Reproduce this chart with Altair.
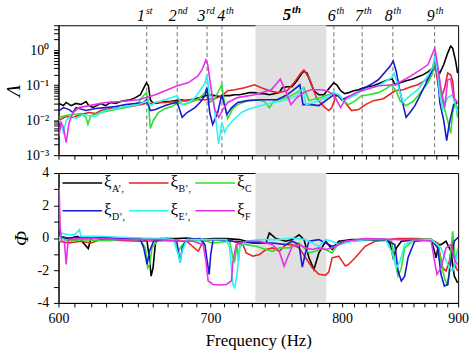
import altair as alt
import pandas as pd

SERIF = "Liberation Serif"

keys = ["A", "B", "C", "D", "E", "F"]
colors = ["#000000", "#e8231f", "#2ee02e", "#1a1ad0", "#2ef2f2", "#e82ee8"]
legend_sub = ["A\u2019,", "B\u2019,", "C", "D\u2019,", "E\u2019,", "F"]

mode_freqs = [656.2, 676.8, 697.6, 708.2, 793.4, 816.5, 842.3, 878.8]
label_num = ["1", "2", "3", "4", "5", "6", "7", "8", "9"]
label_sup = ["st", "nd", "rd", "th", "th", "th", "th", "th", "th"]
label_freq = [655.0, 676.4, 696.4, 710.5, 759.7, 794.8, 817.2, 842.1, 878.8]
band = [732.7, 787.3]

# ---- amplitude ratio (top panel): (frequency Hz, value)
lam_A = [(600.4, 0.030), (603, 0.026), (604.7, 0.032), (607.7, 0.026), (610.7, 0.030), (613.9, 0.028),
         (617, 0.034), (618.8, 0.026), (621.3, 0.023), (623.7, 0.026), (626.3, 0.030), (629.4, 0.026),
         (632.6, 0.032), (635.8, 0.030), (639, 0.034), (642.2, 0.036), (645.5, 0.038), (648.7, 0.044),
         (652, 0.053), (654, 0.079), (656, 0.116), (657.3, 0.096), (658.6, 0.038), (660, 0.032),
         (662, 0.030), (665.3, 0.032), (668.6, 0.034), (671.9, 0.034), (675.4, 0.036), (678.8, 0.038),
         (682.2, 0.036), (685.6, 0.038), (689.1, 0.041), (692.6, 0.044), (696.1, 0.050), (699.5, 0.053),
         (703.1, 0.050), (706.6, 0.047), (710.2, 0.050), (713.8, 0.050), (717.4, 0.053), (721, 0.053),
         (724.7, 0.057), (728.3, 0.061), (732, 0.061), (735.6, 0.057), (739.4, 0.057), (743.1, 0.053),
         (746.8, 0.057), (750.6, 0.061), (752.9, 0.084), (756.6, 0.090), (760.4, 0.090), (764.2, 0.133),
         (768.1, 0.22), (769.7, 0.25), (772, 0.22), (775.1, 0.116), (777.5, 0.069), (781.4, 0.053),
         (785.4, 0.053), (789.3, 0.079), (793.3, 0.116), (795.7, 0.102), (798.9, 0.069), (802.1, 0.057),
         (805.3, 0.061), (809.4, 0.069), (813.5, 0.074), (817.6, 0.084), (821.7, 0.090), (825.8, 0.096),
         (830, 0.109), (834.2, 0.125), (838.4, 0.142), (841.8, 0.150), (844.3, 0.102), (848.5, 0.116),
         (853.7, 0.133), (859.7, 0.150), (864, 0.172), (868.4, 0.196), (872.8, 0.238), (877.2, 0.31),
         (878.9, 0.38), (881.6, 0.27), (883.4, 0.22), (886.9, 0.38), (890.5, 0.82), (893.2, 1.30),
         (895, 1.14), (897.7, 0.49), (899.5, 0.22)]
lam_B = [(600.4, 0.010), (604.7, 0.0127), (608.9, 0.012), (613.9, 0.0145), (618.8, 0.0165), (623, 0.0155),
         (626.3, 0.0188), (632.6, 0.0214), (640.3, 0.0228), (645.5, 0.0244), (652, 0.0277), (655.3, 0.030),
         (658.6, 0.030), (662, 0.032), (668.6, 0.032), (675.4, 0.034), (682.2, 0.036), (689.1, 0.038),
         (696.1, 0.038), (703.1, 0.041), (708.1, 0.050), (712.4, 0.069), (717.4, 0.074), (724.7, 0.084),
         (732, 0.102), (737.1, 0.084), (743.1, 0.069), (749.1, 0.061), (756.6, 0.069), (761.9, 0.116),
         (767.3, 0.22), (769.7, 0.27), (773.6, 0.161), (779.8, 0.041), (785.4, 0.0244), (789.3, 0.0188),
         (791.7, 0.0228), (794.9, 0.047), (797.3, 0.053), (801.3, 0.036), (807.7, 0.0188), (813.5, 0.020),
         (819.2, 0.0277), (825.8, 0.036), (834.2, 0.041), (844.3, 0.069), (851.1, 0.074), (858, 0.090),
         (864, 0.102), (872.8, 0.150), (877.2, 0.25), (878.9, 0.43), (881.6, 0.116), (884.3, 0.038),
         (887.8, 0.084), (890.5, 0.22), (893.2, 0.196), (895, 0.133), (896.8, 0.032), (899.5, 0.0214)]
lam_C = [(600.4, 0.012), (604.7, 0.0135), (608.9, 0.0145), (613.9, 0.0155), (617, 0.012), (618.2, 0.0075),
         (620, 0.0135), (626.3, 0.0165), (632.6, 0.0188), (639, 0.0214), (645.5, 0.0244), (650.7, 0.032),
         (654, 0.050), (656, 0.061), (657.3, 0.032), (658.6, 0.0058), (660.6, 0.0098), (664, 0.0165),
         (668.6, 0.0214), (673.2, 0.0244), (677.5, 0.032), (680.8, 0.0277), (685.6, 0.032), (689.1, 0.036),
         (692.6, 0.044), (696.1, 0.061), (697.5, 0.084), (699.5, 0.032), (703.1, 0.041), (705.9, 0.069),
         (708.1, 0.102), (710.2, 0.0277), (712.4, 0.0111), (716, 0.0214), (719.6, 0.0277), (726.8, 0.036),
         (734.1, 0.038), (739.4, 0.034), (743.1, 0.0228), (746.8, 0.036), (756.6, 0.044), (764.2, 0.061),
         (769.7, 0.084), (773.6, 0.036), (783, 0.044), (793.3, 0.061), (799.7, 0.038), (805.3, 0.0277),
         (811, 0.036), (815.9, 0.050), (821.7, 0.053), (830, 0.061), (836.7, 0.079), (841, 0.102),
         (845.2, 0.069), (848.5, 0.036), (853.7, 0.026), (859.7, 0.034), (864, 0.050), (872.8, 0.116),
         (877.2, 0.22), (878.9, 0.52), (881.6, 0.196), (885.2, 0.041), (890.5, 0.0098), (893.2, 0.0042),
         (895, 0.0165), (897.7, 0.036), (899.5, 0.012)]
lam_D = [(600.4, 0.0188), (603, 0.0228), (606.5, 0.020), (608.9, 0.0165), (610.7, 0.0228), (617, 0.0188),
         (623, 0.0214), (629.4, 0.0228), (635.8, 0.0244), (642.2, 0.0277), (648.7, 0.030), (654, 0.032),
         (656, 0.038), (658.6, 0.0188), (662, 0.020), (668.6, 0.026), (673.2, 0.030), (676.8, 0.032),
         (680.2, 0.012), (683.6, 0.0165), (689.1, 0.0228), (692.6, 0.032), (696.1, 0.050), (697.5, 0.084),
         (699.5, 0.0165), (701.6, 0.0075), (705.2, 0.0165), (708.1, 0.053), (711.7, 0.0145), (715.3, 0.0228),
         (719.6, 0.032), (726.8, 0.036), (737.1, 0.038), (749.1, 0.038), (756.6, 0.053), (761.9, 0.074),
         (766.5, 0.102), (768.9, 0.0277), (775.1, 0.0277), (781.4, 0.026), (787.7, 0.038), (793.3, 0.053),
         (797.3, 0.050), (799.7, 0.038), (805.3, 0.047), (811, 0.053), (815.9, 0.074), (823.3, 0.102),
         (830, 0.142), (835.9, 0.24), (840.1, 0.35), (842.6, 0.49), (845.2, 0.25), (847.7, 0.084),
         (851.1, 0.0277), (853.7, 0.012), (857.1, 0.0165), (861.4, 0.026), (865.8, 0.050), (870.1, 0.096),
         (874.6, 0.196), (877.2, 0.31), (878.9, 0.59), (881.6, 0.196), (883.4, 0.032), (886.9, 0.0098),
         (889.6, 0.0026), (891.4, 0.0062), (893.2, 0.012), (895.9, 0.0277), (899.5, 0.032)]
lam_E = [(600.4, 0.010), (601.6, 0.0075), (603, 0.0045), (604.7, 0.0098), (607.7, 0.0135), (610.7, 0.0111),
         (615.2, 0.0145), (618.8, 0.0135), (623, 0.0127), (626.3, 0.0165), (629.4, 0.0188), (635.8, 0.0214),
         (642.2, 0.0244), (650.7, 0.0277), (656.6, 0.036), (658.6, 0.026), (662, 0.032), (668.6, 0.038),
         (673.2, 0.044), (676.8, 0.050), (680.2, 0.0277), (684.3, 0.032), (689.1, 0.044), (692.6, 0.069),
         (696.1, 0.116), (697.5, 0.196), (699.5, 0.053), (702.3, 0.032), (705.9, 0.0021), (708.1, 0.0086),
         (710.2, 0.0045), (712.4, 0.0066), (716, 0.0098), (722.5, 0.0165), (726.8, 0.020), (737.1, 0.026),
         (746.8, 0.032), (756.6, 0.038), (764.2, 0.050), (768.9, 0.084), (771.2, 0.0277), (777.5, 0.032),
         (787.7, 0.044), (793.3, 0.061), (797.3, 0.053), (801.3, 0.036), (811, 0.053), (815.9, 0.069),
         (830, 0.096), (841, 0.161), (843.5, 0.22), (846.8, 0.096), (851.1, 0.032), (857.1, 0.050),
         (864, 0.074), (872.8, 0.184), (877.2, 0.33), (878.9, 0.67), (881.6, 0.196), (883.4, 0.053),
         (886, 0.020), (890.5, 0.044), (895, 0.053), (899.5, 0.0165)]
lam_F = [(600.4, 0.0037), (601.6, 0.0086), (603, 0.0062), (604.7, 0.0023), (606.5, 0.0086), (608.9, 0.0165),
         (612.7, 0.0228), (618.8, 0.026), (629.4, 0.032), (639, 0.034), (650.7, 0.038), (662, 0.053),
         (668.6, 0.069), (676.8, 0.096), (684.3, 0.116), (691.2, 0.184), (694, 0.27), (696.8, 0.52),
         (698.1, 0.38), (700.9, 0.061), (703.1, 0.020), (705.9, 0.012), (708.8, 0.020), (712.4, 0.032),
         (719.6, 0.044), (732, 0.053), (744.6, 0.074), (749.1, 0.116), (751.4, 0.150), (755.9, 0.061),
         (759.6, 0.0277), (764.2, 0.044), (769.7, 0.061), (775.1, 0.074), (783, 0.074), (787.7, 0.069),
         (793.3, 0.053), (798.9, 0.0228), (802.9, 0.041), (811, 0.061), (815.9, 0.069), (830, 0.096),
         (844.3, 0.102), (858, 0.184), (872.8, 0.38), (878.9, 1.14), (881.6, 0.35), (884.3, 0.084),
         (887.8, 0.0228), (890.5, 0.142), (893.2, 0.150), (895.9, 0.044), (899.5, 0.032)]

# ---- phase (bottom panel): (frequency Hz, phase)
phi_A = [(600.4, 0.1), (605.9, -0.04), (611.8, 0.1), (618.4, -0.65), (620, -0.04), (626.3, 0.04), (639, -0.04),
         (652, -0.04), (656.4, -0.2), (658.2, -1.43), (659.1, -2.35), (660.4, -1.84), (662, -0.31),
         (665.3, -0.04), (676.5, -0.04), (683.3, 0.0), (692.6, -0.1), (701.9, -0.04), (711.4, -0.04),
         (721, -0.1), (730.8, -0.31), (740.6, -0.31), (743.1, 0.31), (748.1, -0.04), (755.6, -0.2),
         (760.6, -0.1), (765.8, 0.2), (769.7, -0.1), (773.6, -1.22), (777.5, -1.94), (781.4, -0.92),
         (786.8, -0.2), (792, -0.71), (797.3, -0.2), (808.1, -0.1), (824.5, -0.1), (835.6, -0.1),
         (839.8, -0.31), (842.6, -1.22), (845.4, -0.61), (849.6, -0.2), (864, -0.1), (875.7, -0.1),
         (878.6, -0.82), (880.1, -1.22), (882.2, -0.41), (884.5, -0.41), (889, -0.2), (893.5, -0.82),
         (896.5, -2.35), (899.5, -2.76)]
phi_B = [(600.4, -0.2), (605.9, -0.31), (613.9, -0.2), (620, -0.31), (626.3, -0.1), (639, -0.16), (652, -0.2),
         (669.7, -0.16), (683.3, -0.2), (691.4, -0.82), (694.9, -0.2), (701.9, -0.1), (716.2, -0.2),
         (723.5, -0.41), (725.9, -0.92), (730.8, -1.12), (735.6, -1.02), (740.6, -0.71), (745.6, -0.61),
         (750.6, -0.82), (755.6, -0.41), (760.6, -0.41), (765.8, -0.61), (771, -1.22), (776.2, -1.84),
         (781.4, -2.24), (786.8, -2.29), (789.3, -2.1), (792, -1.22), (797.3, -1.12), (802.7, -1.73),
         (805.3, -1.63), (810.7, -1.22), (819, -0.51), (827.2, -0.2), (846.8, -0.04), (864, -0.04),
         (875.7, -0.1), (881.6, -0.31), (886, -1.84), (889, -2.04), (892, -1.43), (895, -0.2), (898, -1.84),
         (900, -2.04)]
phi_C = [(600.4, 0.1), (605.9, -0.2), (613.9, -0.1), (622.2, -0.16), (632.6, -0.16), (643.3, -0.04), (652, -0.16),
         (655.3, -0.61), (656.8, -1.84), (658.2, -1.63), (659.7, -0.61), (663, -0.2), (669.7, -0.1),
         (675.1, -0.2), (677.2, -0.92), (678.8, -0.61), (683.3, -0.1), (697.3, -0.2), (701.9, -0.31),
         (713.8, -0.2), (716.2, -1.22), (717.4, -1.43), (719.1, -0.41), (720.3, -1.43), (721.5, -0.2),
         (725.9, -0.41), (733.2, -0.51), (740.6, -0.71), (745.6, -0.82), (750.6, -0.61), (758.1, -0.61),
         (765.8, -0.31), (773.6, -0.92), (778.8, -0.82), (784, -0.61), (789.3, -0.82), (792, -0.92),
         (797.3, -0.31), (808.1, -0.2), (824.5, -0.1), (841.2, -0.2), (844, -1.43), (846.8, -2.35),
         (849.6, -1.84), (852.5, -0.61), (861.1, -0.1), (875.7, -0.1), (881.6, -0.41), (887.5, -2.45),
         (890.5, -2.96), (892.6, -1.43), (895, 0.41), (897.1, -1.43), (900, -0.61)]
phi_D = [(600.4, 0.1), (605.9, 0.0), (613.9, 0.04), (626.3, -0.04), (639, -0.04), (652, -0.1), (654.2, -0.61),
         (656.4, -1.63), (658, -0.82), (660.8, -0.2), (669.7, -0.04), (676.5, -0.2), (678.8, -1.53),
         (680.2, -0.61), (683.3, -0.1), (692.6, -0.04), (696.1, -0.41), (697.7, -1.43), (699.1, -2.24),
         (700.2, -1.02), (701.9, -0.1), (706.6, -0.1), (716.2, -0.2), (730.8, -0.31), (745.6, -0.31),
         (755.6, -0.41), (760.6, -0.2), (765.8, -0.41), (768.4, -1.8), (770.5, -1.02), (773.6, -0.2),
         (781.4, -0.1), (792, -0.51), (802.7, -0.2), (819, -0.1), (835.6, -0.1), (844, -0.41), (846.8, -2.04),
         (849.6, -2.65), (852.5, -2.35), (855.4, -1.22), (861.1, -0.2), (875.7, -0.1), (881.6, -0.61),
         (884.5, -2.24), (887.5, -2.96), (890.5, -2.86), (893.5, -1.43), (896.5, -0.2), (900, 0.04)]
phi_E = [(600.4, -0.2), (601.6, 0.31), (605.9, 0.2), (609.9, 0.2), (612.9, 0.51), (613.9, 0.1), (620, 0.1),
         (626.3, 0.1), (639, 0.04), (652, 0.0), (665.3, -0.04), (674.2, -0.1), (677.6, -1.02), (678.8, -1.53),
         (680.2, -0.82), (683.3, -0.1), (697.3, -0.1), (711.4, -0.1), (713.8, -0.61), (716.2, -2.86),
         (717.4, -3.06), (719.1, -2.24), (721, -0.61), (725.9, -0.2), (735.6, -0.1), (750.6, -0.1),
         (760.6, 0.0), (771, -0.1), (776.2, -0.31), (781.4, -0.51), (786.8, -0.1), (792, -0.2), (797.3, -0.41),
         (808.1, -0.2), (819, -0.1), (835.6, -0.04), (841.2, -0.82), (845.4, -1.84), (848.5, -1.43),
         (852.5, -0.41), (861.1, -0.1), (875.7, -0.1), (884.5, -0.61), (890.5, -1.63), (895, -2.04),
         (898, -1.43), (900, -0.61)]
phi_F = [(600.4, 3.06), (601, 0.61), (602, -0.2), (603.6, -0.2), (604.7, -1.63), (605.9, -0.1), (613.9, -0.04),
         (626.3, -0.04), (639, -0.1), (652, -0.1), (665.3, -0.1), (678.8, -0.2), (687.8, -0.2), (694.9, -0.41),
         (696.8, -1.43), (698.4, -2.65), (701.9, -2.86), (706.6, -2.9), (711.4, -2.86), (715, -2.65),
         (716.2, -1.43), (718.6, -0.41), (725.9, -0.2), (735.6, -0.2), (745.6, -0.41), (750.6, -0.82),
         (754.4, -1.73), (756.9, -1.22), (760.6, -0.51), (765.8, -0.41), (771, -0.61), (776.2, -0.71),
         (781.4, -0.61), (786.8, -0.71), (792, -0.61), (802.7, -0.2), (819, -0.04), (846.8, -0.1),
         (861.1, -0.1), (875.7, -0.2), (879.2, -1.63), (880.9, -2.24), (884.5, -1.84), (889, -0.61),
         (893.5, -0.41), (897.1, -1.43), (900, -1.63)]


def frame(series, col):
    rows = []
    for k, pts in zip(keys, series):
        for f, v in pts:
            rows.append({"f": f, col: v, "s": k})
    return pd.DataFrame(rows)


top_df = frame([lam_A, lam_B, lam_C, lam_D, lam_E, lam_F], "v")
bot_df = frame([phi_A, phi_B, phi_C, phi_D, phi_E, phi_F], "p")
band_df = pd.DataFrame({"f0": [band[0]], "f1": [band[1]]})
mode_df = pd.DataFrame({"f": mode_freqs})
lab_df = pd.DataFrame({"f": label_freq, "n": label_num, "s": label_sup})
lab_norm = lab_df[lab_df["n"] != "5"]
lab_bold = lab_df[lab_df["n"] == "5"]

W, H = 403, 131

xscale = alt.Scale(type="log", domain=[600, 900], nice=False)
xticks = list(range(600, 901, 10))
top_xaxis = alt.Axis(values=xticks, labels=False, title=None, tickSize=4, grid=False)
bot_xaxis = alt.Axis(values=xticks, labelExpr="round(datum.value) % 100 == 0 ? '' + round(datum.value) : ''",
                     labelOverlap=False, labelFlush=False, tickSize=4, labelPadding=5,
                     labelFont=SERIF, labelFontSize=14, title="Frequency (Hz)", titleFont=SERIF,
                     titleFontSize=17, titleFontWeight="normal", titlePadding=7, grid=False)

ytop_vals = [m * 10 ** e for e in [-3, -2, -1] for m in range(1, 10)] + [1, 2, 3, 4, 5]
ytop_axis = alt.Axis(values=ytop_vals,
                     labelExpr="datum.value == 1 ? '10\u2070' : datum.value == 0.1 ? '10\u207b\u00b9' : "
                               "datum.value == 0.01 ? '10\u207b\u00b2' : datum.value == 0.001 ? '10\u207b\u00b3' : ''",
                     labelOverlap=False, labelFlush=False, tickSize=5, labelPadding=5, labelFont=SERIF,
                     labelFontSize=14, title="\u039b", titleFont=SERIF, titleFontStyle="italic",
                     titleFontWeight="normal", titleFontSize=20, titleX=-45, titleY=H / 2, titleAngle=270,
                     titleAlign="center", titleBaseline="middle", grid=False)
ybot_axis = alt.Axis(values=list(range(-4, 5)),
                     labelExpr="datum.value % 2 == 0 ? replace(datum.label, '\u2212', '-') : ''",
                     labelOverlap=False, labelFlush=False, tickSize=5, labelPadding=5, labelFont=SERIF,
                     labelFontSize=14, title="\u03a6", titleFont=SERIF, titleFontStyle="italic",
                     titleFontWeight="normal", titleFontSize=20, titleX=-37, titleY=H / 2, titleAngle=270,
                     titleAlign="center", titleBaseline="middle", grid=False)

color = alt.Color("s:N", scale=alt.Scale(domain=keys, range=colors), legend=None)
X_top = alt.X("f:Q", scale=xscale, axis=top_xaxis)
X_bot = alt.X("f:Q", scale=xscale, axis=bot_xaxis)

# ---- top panel
top_rect = alt.Chart(band_df).mark_rect(color="#e0e0e0").encode(
    x=alt.X("f0:Q", scale=xscale, axis=top_xaxis), x2="f1:Q")
top_rules = alt.Chart(mode_df).mark_rule(color="#6e6e6e", strokeDash=[4, 3], strokeWidth=1).encode(x=X_top)
top_lines = alt.Chart(top_df).mark_line(strokeWidth=1.6, clip=True).encode(
    x=X_top, y=alt.Y("v:Q", scale=alt.Scale(type="log", domain=[0.001, 5.1], nice=False), axis=ytop_axis),
    color=color)
num_n = alt.Chart(lab_norm).mark_text(font=SERIF, fontStyle="italic", fontSize=16, align="right",
                                      baseline="alphabetic").encode(x=X_top, y=alt.value(-4), text="n:N")
sup_n = alt.Chart(lab_norm).mark_text(font=SERIF, fontStyle="italic", fontSize=10, align="left",
                                      baseline="alphabetic", dx=1).encode(x=X_top, y=alt.value(-11), text="s:N")
num_b = alt.Chart(lab_bold).mark_text(font=SERIF, fontStyle="italic", fontWeight="bold", fontSize=17,
                                      align="right", baseline="alphabetic").encode(x=X_top, y=alt.value(-5), text="n:N")
sup_b = alt.Chart(lab_bold).mark_text(font=SERIF, fontStyle="italic", fontWeight="bold", fontSize=11,
                                      align="left", baseline="alphabetic", dx=1).encode(x=X_top, y=alt.value(-12), text="s:N")
top = alt.layer(top_rect, top_rules, top_lines, num_n, sup_n, num_b, sup_b).properties(width=W, height=H)

# ---- bottom panel
bot_rect = alt.Chart(band_df).mark_rect(color="#e0e0e0").encode(
    x=alt.X("f0:Q", scale=xscale, axis=bot_xaxis), x2="f1:Q")
bot_lines = alt.Chart(bot_df).mark_line(strokeWidth=1.6, clip=True).encode(
    x=X_bot, y=alt.Y("p:Q", scale=alt.Scale(domain=[-4, 4], nice=False), axis=ybot_axis), color=color)

LEG_X0, LEG_DX, LEG_Y0, LEG_DY, LEG_LEN = 4, 67, 10, 28, 40
legend_layers = []
one = pd.DataFrame({"k": [0]})
for i, (k, sub, col) in enumerate(zip(keys, legend_sub, colors)):
    c, r = i % 3, i // 3
    x0 = LEG_X0 + LEG_DX * c
    y0 = LEG_Y0 + LEG_DY * r
    legend_layers.append(alt.Chart(one).mark_rule(color=col, strokeWidth=1.6).encode(
        x=alt.value(x0), x2=alt.value(x0 + LEG_LEN), y=alt.value(y0)))
    legend_layers.append(alt.Chart(one).mark_text(text="\u03be", font=SERIF, fontSize=17, align="left",
                                                  baseline="alphabetic").encode(
        x=alt.value(x0 + LEG_LEN + 2), y=alt.value(y0 + 4)))
    legend_layers.append(alt.Chart(one).mark_text(text=sub, font=SERIF, fontSize=10, align="left",
                                                  baseline="alphabetic").encode(
        x=alt.value(x0 + LEG_LEN + 10), y=alt.value(y0 + 9)))

bottom = alt.layer(bot_rect, bot_lines, *legend_layers).properties(width=W, height=H)

chart = alt.vconcat(top, bottom, spacing=18, bounds="flush").properties(
    padding={"left": 3, "top": 2, "right": 5, "bottom": 2}
).configure_view(stroke="black", strokeWidth=1).configure_axis(
    domainColor="black", tickColor="black", labelColor="black", titleColor="black"
)

chart.save("out.html", embed_options={"renderer": "svg", "actions": False})
